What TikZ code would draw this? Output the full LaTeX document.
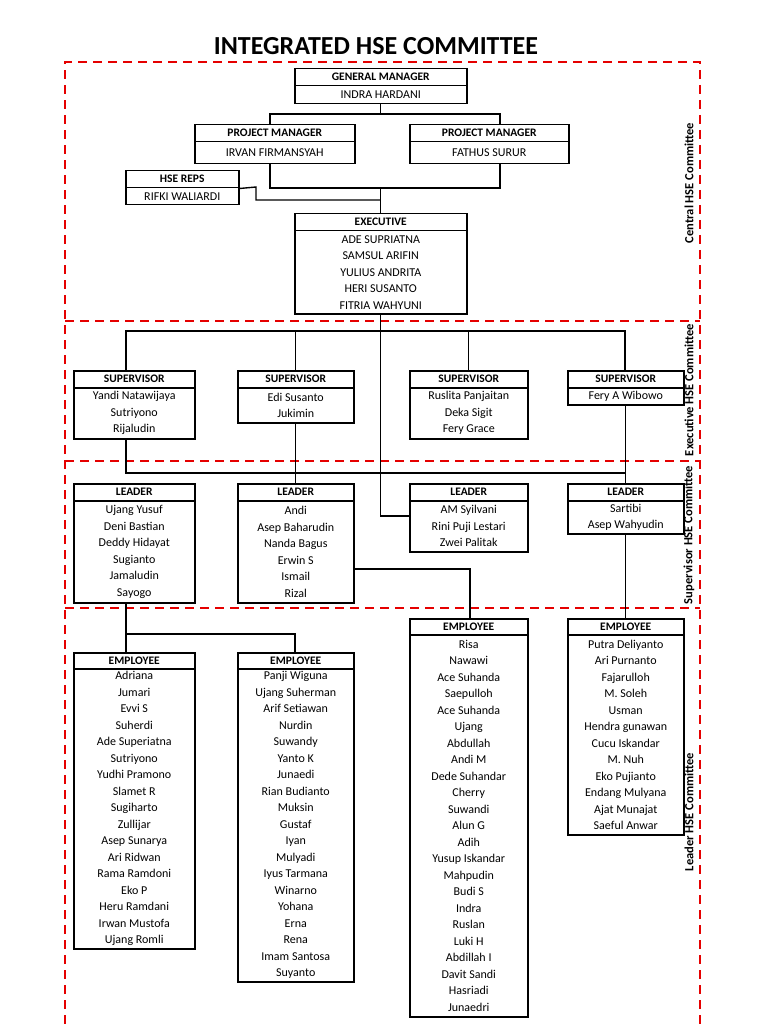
\documentclass[tikz,border=0pt]{standalone}
\usepackage{fontspec}
\setmainfont{Carlito}
\begin{document}
\newcommand\obox[8]{%
\node[draw,line width=1.5pt,anchor=north west,inner sep=0pt,minimum width={(#3-#2)*1pt},minimum height={(#5-#4)*1pt},font=\bfseries\fontsize{11.5}{12}\selectfont] (#1h) at (#2,#4) {#7};
\node[draw,line width=1.5pt,anchor=north west,inner sep=0pt,align=center,minimum width={(#3-#2)*1pt},minimum height={(#6-#5)*1pt},font=\fontsize{12}{16.5}\selectfont] (#1b) at (#2,#5) {#8};}
\begin{tikzpicture}[x=1pt,y=-1pt,
  conn/.style={line width=1.4pt},
  frame/.style={red!90!black,line width=2.4pt,dash pattern=on 9pt off 6pt},
  vlab/.style={rotate=90,font=\bfseries\fontsize{12.5}{13}\selectfont}]
\useasboundingbox (0,0) rectangle (768,1024);
\node[font=\bfseries\fontsize{26}{28}\selectfont] (title) at (376,46) {INTEGRATED HSE COMMITTEE};
% frames
\draw[frame] (65,1024) -- (65,62) -- (700,62) -- (700,1024);
\draw[frame] (65,321) -- (700,321);
\draw[frame] (65,461) -- (700,461);
\draw[frame] (65,608) -- (700,608);
\node[vlab] (l1) at (689,183) {Central HSE Committee};
\node[vlab] (l2) at (689,390) {Executive HSE Committee};
\node[vlab] (l3) at (689,535) {Supervisor HSE Committee};
\node[vlab] (l4) at (689,812) {Leader HSE Committee};
% boxes
\obox{gm}{294}{466}{68}{85}{103}{GENERAL MANAGER}{INDRA HARDANI}
\obox{pma}{194}{354}{124}{141}{163}{PROJECT MANAGER}{IRVAN FIRMANSYAH}
\obox{pmb}{409}{568}{124}{141}{163}{PROJECT MANAGER}{FATHUS SURUR}
\obox{hse}{125}{238}{170}{187}{204}{HSE REPS}{RIFKI WALIARDI}
\obox{ex}{294}{466}{213}{230}{313}{EXECUTIVE}{ADE SUPRIATNA\\SAMSUL ARIFIN\\YULIUS ANDRITA\\HERI SUSANTO\\FITRIA WAHYUNI}
\obox{sa}{73}{194}{370}{387}{438}{SUPERVISOR}{Yandi Natawijaya\\Sutriyono\\Rijaludin}
\obox{sb}{237}{353}{370}{387}{422}{SUPERVISOR}{Edi Susanto\\Jukimin}
\obox{sc}{409}{527}{370}{387}{438}{SUPERVISOR}{Ruslita Panjaitan\\Deka Sigit\\Fery Grace}
\obox{sd}{567}{683}{370}{387}{404}{SUPERVISOR}{Fery A Wibowo}
\obox{la}{73}{194}{483}{500}{602}{LEADER}{Ujang Yusuf\\Deni Bastian\\Deddy Hidayat\\Sugianto\\Jamaludin\\Sayogo}
\obox{lb}{237}{353}{483}{500}{602}{LEADER}{Andi\\Asep Baharudin\\Nanda Bagus\\Erwin S\\Ismail\\Rizal}
\obox{lc}{409}{527}{483}{500}{551}{LEADER}{AM Syilvani\\Rini Puji Lestari\\Zwei Palitak}
\obox{ld}{567}{683}{483}{500}{533}{LEADER}{Sartibi\\Asep Wahyudin}
\obox{ea}{73}{194}{652}{668}{948}{EMPLOYEE}{Adriana\\Jumari\\Evvi S\\Suherdi\\Ade Superiatna\\Sutriyono\\Yudhi Pramono\\Slamet R\\Sugiharto\\Zullijar\\Asep Sunarya\\Ari Ridwan\\Rama Ramdoni\\Eko P\\Heru Ramdani\\Irwan Mustofa\\Ujang Romli}
\obox{eb}{237}{353}{652}{668}{981}{EMPLOYEE}{Panji Wiguna\\Ujang Suherman\\Arif Setiawan\\Nurdin\\Suwandy\\Yanto K\\Junaedi\\Rian Budianto\\Muksin\\Gustaf\\Iyan\\Mulyadi\\Iyus Tarmana\\Winarno\\Yohana\\Erna\\Rena\\Imam Santosa\\Suyanto}
\obox{ec}{409}{527}{618}{634}{1016}{EMPLOYEE}{Risa\\Nawawi\\Ace Suhanda\\Saepulloh\\Ace Suhanda\\Ujang\\Abdullah\\Andi M\\Dede Suhandar\\Cherry\\Suwandi\\Alun G\\Adih\\Yusup Iskandar\\Mahpudin\\Budi S\\Indra\\Ruslan\\Luki H\\Abdillah I\\Davit Sandi\\Hasriadi\\Junaedri}
\obox{ed}{567}{683}{618}{634}{834}{EMPLOYEE}{Putra Deliyanto\\Ari  Purnanto\\Fajarulloh\\M. Soleh\\Usman\\Hendra gunawan\\Cucu Iskandar\\M. Nuh\\Eko Pujianto\\Endang Mulyana\\Ajat Munajat\\Saeful Anwar}
% junction coordinates
\coordinate (t1) at (380,114); \coordinate (t2) at (270,114); \coordinate (t3) at (500,114);
\coordinate (b1) at (380,188); \coordinate (b2) at (270,188); \coordinate (b3) at (500,188);
\coordinate (h1) at (256,187); \coordinate (h2) at (256,200); \coordinate (h3) at (380,200);
\coordinate (s1) at (126,331); \coordinate (s4) at (625,331);
\coordinate (m1) at (126,473); \coordinate (m4) at (625,473);
\coordinate (x1) at (380,516);
\coordinate (r1) at (470,569);
\coordinate (p1) at (126,634); \coordinate (p2) at (295,634);
% connectors
\draw[conn] (gmb.south) -- (gmb.south|-t1);
\draw[conn] (t2|-pmah.north) -- (t2) -- (t3) -- (t3|-pmbh.north);
\draw[conn] (b2|-pmab.south) -- (b2) -- (b3) -- (b3|-pmbb.south);
\draw[conn] (exh.north|-b1) -- (exh.north);
\draw[conn] (hseh.south east) -- (h1) -- (h2) -- (exh.north|-h3);
\draw[conn] (exb.south) -- (exb.south|-x1) -- (x1-|lcb.west);
\draw[conn] (s1|-sah.north) -- (s1) -- (s4) -- (s4|-sdh.north);
\draw[conn] (sbh.north) -- (sbh.north|-s1);
\draw[conn] (sch.north) -- (sch.north|-s1);
\draw[conn] (s1|-sab.south) -- (m1) -- (m4);
\draw[conn] (sbb.south) -- (lbh.north);
\draw[conn] (sdb.south) -- (ldh.north);
\draw[conn] (r1-|lbb.east) -- (r1) -- (r1|-ech.north);
\draw[conn] (ldb.south) -- (edh.north);
\draw[conn] (p1|-lab.south) -- (p1) -- (p2) -- (p2|-ebh.north);
\draw[conn] (p1) -- (p1|-eah.north);
\end{tikzpicture}
\end{document}
